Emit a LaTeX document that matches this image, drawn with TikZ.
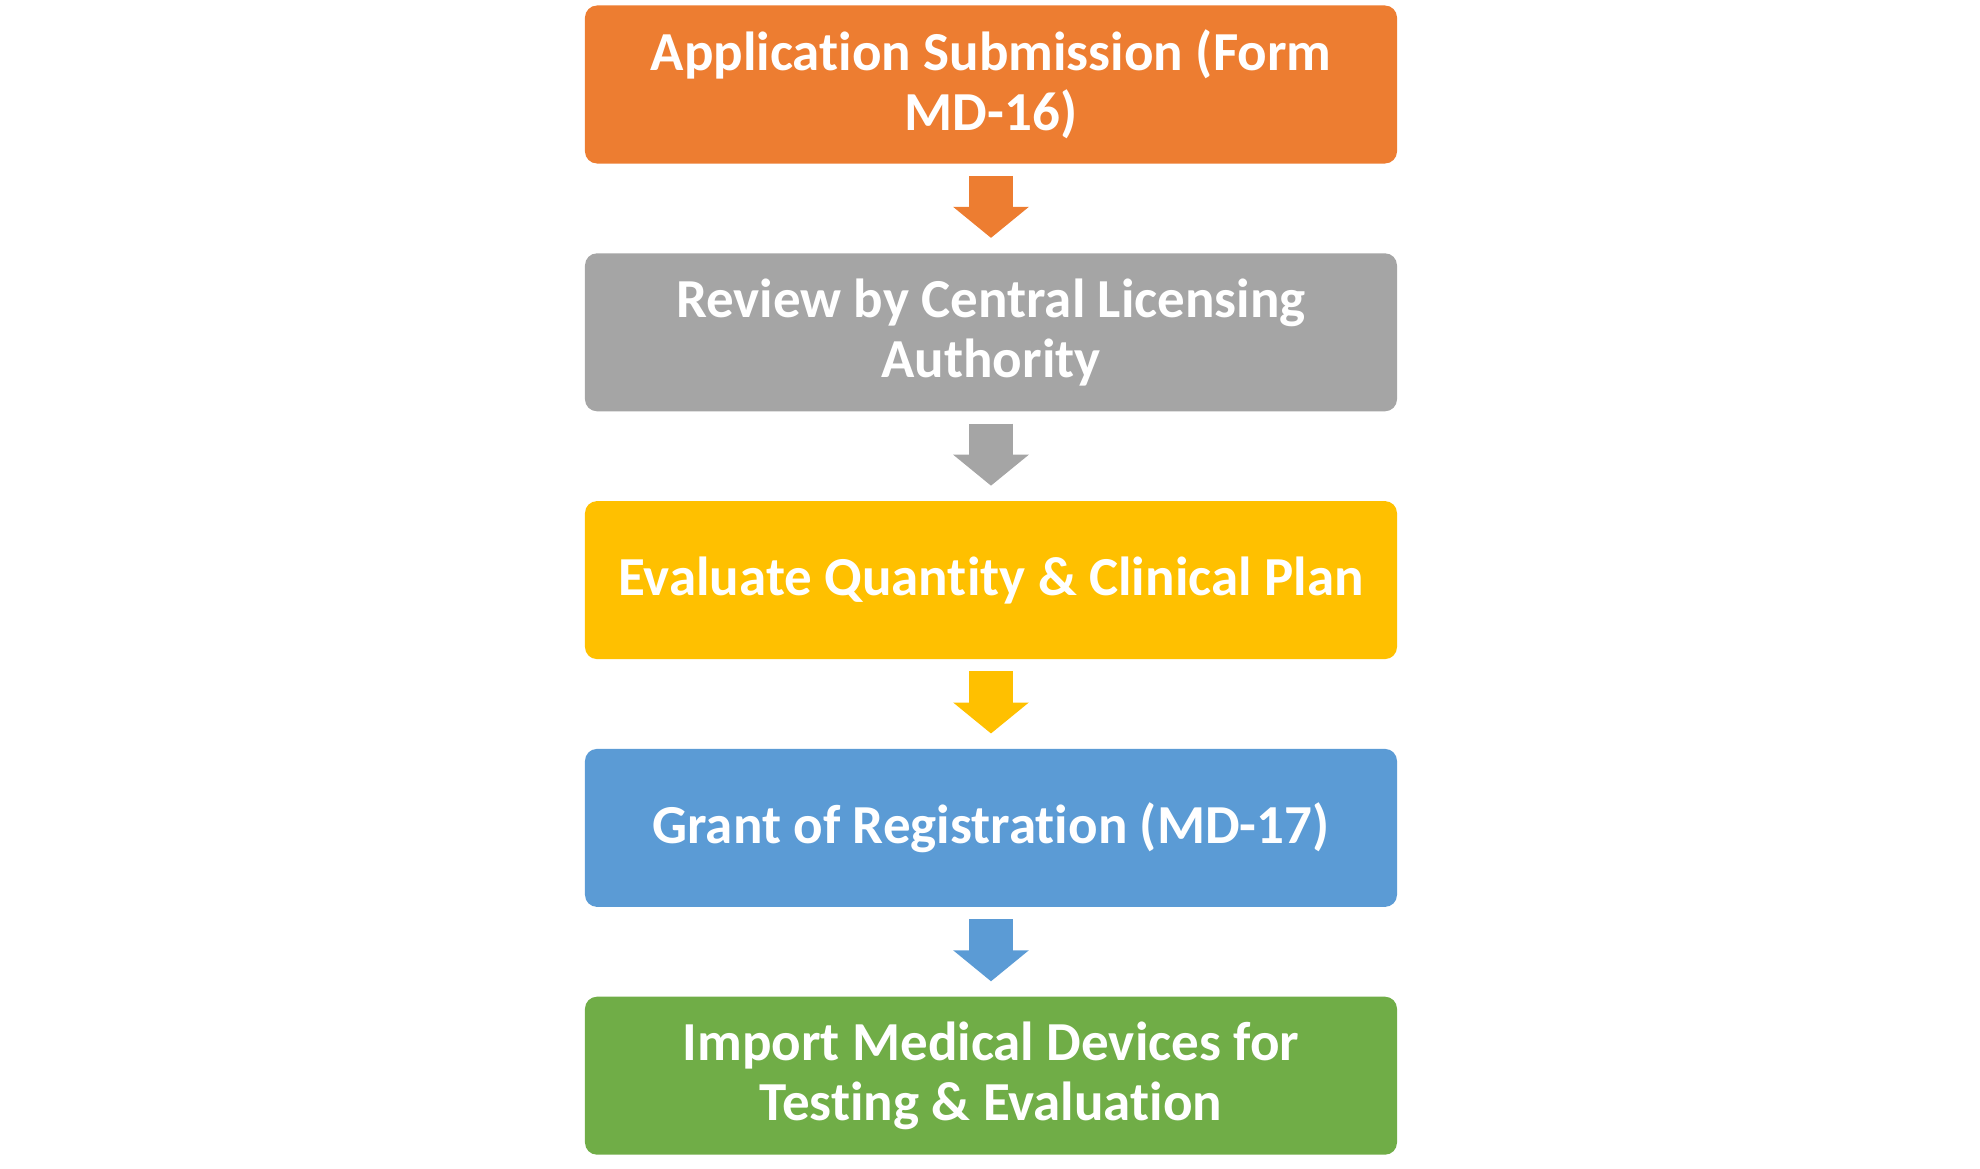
\documentclass[tikz,border=0pt]{standalone}
\usepackage{fontspec}
\setmainfont{Carlito}[Ligatures=NoCommon]
\usepackage{xcolor}
\usepackage{tikz}
\usetikzlibrary{positioning,arrows.meta,calc}
\definecolor{mdorange}{HTML}{ED7D31}
\definecolor{mdgray}{HTML}{A5A5A5}
\definecolor{mdgold}{HTML}{FFC000}
\definecolor{mdblue}{HTML}{5B9BD5}
\definecolor{mdgreen}{HTML}{70AD47}

\begin{document}
\begin{tikzpicture}[
		stage/.style={rounded corners=6bp,minimum width=406bp,minimum height=79bp,text width=400bp,align=flush center,inner sep=0pt,text=white,font=\fontsize{27.5bp}{30bp}\selectfont\bfseries},
		flow/.style={line width=22bp,-{Triangle[width=37bp,length=15.5bp]}},
		node distance=44.5bp]
		\useasboundingbox (-495.5bp,-542.25bp) rectangle (494.5bp,42.25bp);
		\node[stage,fill=mdorange] (submit) at (0,0) {Application Submission (Form\\MD-16)};
		\node[stage,fill=mdgray,below=of submit] (review) {Review by Central Licensing\\Authority};
		\node[stage,fill=mdgold,below=of review] (evaluate) {Evaluate Quantity \& Clinical Plan};
		\node[stage,fill=mdblue,below=of evaluate] (grant) {Grant of Registration (MD-17)};
		\node[stage,fill=mdgreen,below=of grant] (import) {Import Medical Devices for\\Testing \& Evaluation};
		\draw[flow,mdorange] ([yshift=-6bp]submit.south) -- ([yshift=7.5bp]review.north);
		\draw[flow,mdgray] ([yshift=-6bp]review.south) -- ([yshift=7.5bp]evaluate.north);
		\draw[flow,mdgold] ([yshift=-6bp]evaluate.south) -- ([yshift=7.5bp]grant.north);
		\draw[flow,mdblue] ([yshift=-6bp]grant.south) -- ([yshift=7.5bp]import.north);
	\end{tikzpicture}
\end{document}
